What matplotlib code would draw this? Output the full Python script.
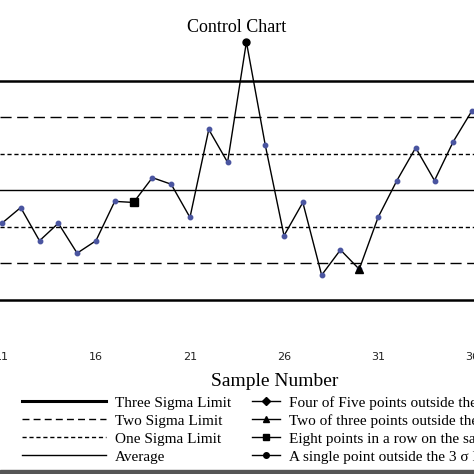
import matplotlib
matplotlib.use("Agg")
import matplotlib.pyplot as plt
from matplotlib.lines import Line2D
from matplotlib.patches import Rectangle

samples = list(range(11, 37))
values = [-0.91, -0.48, -1.39, -0.91, -1.73, -1.39, -0.31, -0.34, 0.34, 0.16,
          -0.75, 1.66, 0.76, 4.06, 1.24, -1.25, -0.34, -2.33, -1.64, -2.17,
          -0.75, 0.26, 1.16, 0.26, 1.33, 2.18]
xticks = [11, 16, 21, 26, 31, 36]
special_square = 18
special_circle = 24
special_triangle = 30

serif = ['Liberation Serif', 'DejaVu Serif']
fig = plt.figure(figsize=(4.74, 4.74), dpi=100)
W = H = 474.0
ax = fig.add_axes([0, 1 - 340 / H, 1, (340 - 35) / H])
ax.set_xlim(10.9, 36.1)
ax.set_ylim(-4.11, 4.25)
for s in ax.spines.values():
    s.set_visible(False)
ax.set_yticks([])
ax.set_xticks(xticks)
ax.tick_params(axis='x', length=0, pad=9, labelsize=8, colors='#222222')

ax.axhline(3, color='k', lw=1.8)
ax.axhline(-3, color='k', lw=1.8)
ax.axhline(2, color='k', lw=1, ls=(0, (8, 4)))
ax.axhline(-2, color='k', lw=1, ls=(0, (8, 4)))
ax.axhline(1, color='k', lw=1, ls=(0, (3, 2)))
ax.axhline(-1, color='k', lw=1, ls=(0, (3, 2)))
ax.axhline(0, color='k', lw=1)

ax.plot(samples, values, color='k', lw=1, marker='o', ms=3.2,
        mfc='#4a55a0', mec='#4a55a0', clip_on=False, zorder=3)
d = dict(zip(samples, values))
ax.plot(special_square, d[special_square], 's', color='k', ms=6, zorder=4)
ax.plot(special_circle, d[special_circle], 'o', color='k', ms=5, zorder=4, clip_on=False)
ax.plot(special_triangle, d[special_triangle], '^', color='k', ms=6, zorder=4)

fig.text(237 / W, 1 - 27 / H, 'Control Chart', ha='center', va='center',
         fontsize=13, family=serif)
fig.text(275 / W, 1 - 381 / H, 'Sample Number', ha='center', va='center',
         fontsize=14, family=serif)

left = [Line2D([], [], color='k', lw=2.2),
        Line2D([], [], color='k', lw=1, ls=(0, (5, 3))),
        Line2D([], [], color='k', lw=1, ls=(0, (3, 2))),
        Line2D([], [], color='k', lw=1)]
right = [Line2D([], [], color='k', lw=1, marker='D', ms=4),
         Line2D([], [], color='k', lw=1, marker='^', ms=4),
         Line2D([], [], color='k', lw=1, marker='s', ms=4),
         Line2D([], [], color='k', lw=1, marker='o', ms=4)]
lkw = dict(frameon=False, prop={'family': serif, 'size': 11}, labelspacing=0.28,
           handletextpad=0.6, borderaxespad=0, borderpad=0)
fig.legend(left, ['Three Sigma Limit', 'Two Sigma Limit', 'One Sigma Limit', 'Average'],
           loc='upper left', bbox_to_anchor=(22 / W, 1 - 396 / H), handlelength=5.5, **lkw)
fig.legend(right, ['Four of Five points outside the 1 σ limit',
                   'Two of three points outside the 2 σ limit',
                   'Eight points in a row on the same side',
                   'A single point outside the 3 σ limit'],
           loc='upper left', bbox_to_anchor=(252 / W, 1 - 396 / H), handlelength=1.8, **lkw)

fig.patches.append(Rectangle((0, 0), 1, 4 / H, transform=fig.transFigure,
                             color='#555555', zorder=10))
fig.savefig('out.png', dpi=100)
